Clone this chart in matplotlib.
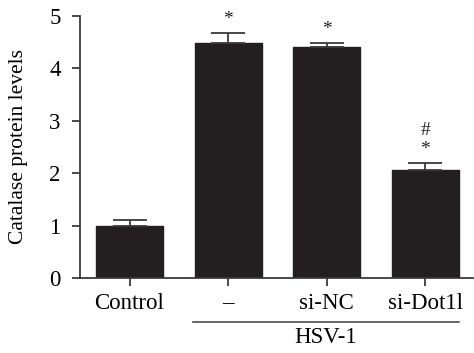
import matplotlib.pyplot as plt
import numpy as np

plt.rcParams.update({
    "font.family": ["Liberation Serif", "DejaVu Serif"],
    "font.size": 16,
})

# data
groups = ["Control", "\u2013", "si-NC", "si-Dot1l"]
means = [1.00, 4.49, 4.40, 2.06]
errs = [0.10, 0.18, 0.08, 0.13]
marks = ["", "*", "*", "#\n*"]

bar_color = "#231f20"
axis_color = "#3a3a3a"

fig = plt.figure(figsize=(4.74, 3.53), dpi=100)
ax = fig.add_axes([80 / 474, 1 - 278 / 353, 393 / 474, 262 / 353])

x = np.arange(len(groups))
ax.bar(x, means, width=0.68, color=bar_color, edgecolor=bar_color, zorder=2)
ax.errorbar(x, means, yerr=[np.zeros(len(errs)), errs], fmt="none",
            ecolor=axis_color, elinewidth=1.3, capsize=12, capthick=1.3, zorder=3)

for xi, m, e, s in zip(x, means, errs, marks):
    if not s:
        continue
    ax.text(xi, m + e + 0.1, s, ha="center", va="bottom", fontsize=14,
            linespacing=1.15, color="#222222")

ax.set_xlim(-0.503, 3.487)
ax.set_ylim(0, 5)
ax.set_yticks(range(6))
ax.set_xticks(x)
ax.set_xticklabels(groups)
ax.set_ylabel("Catalase protein levels", fontsize=15.5)
ax.yaxis.set_label_coords(-52 / 393, 0.5)

for side in ["top", "right"]:
    ax.spines[side].set_visible(False)
for side in ["left", "bottom"]:
    ax.spines[side].set_color(axis_color)
    ax.spines[side].set_linewidth(1.3)
ax.tick_params(axis="both", direction="out", length=6, width=1.3,
               color=axis_color, labelsize=16.5, pad=5)
ax.tick_params(axis="y", pad=8)

# HSV-1 group bracket
ax.plot([0.645, 3.345], [-0.834, -0.834], color=axis_color, lw=1.1, clip_on=False)
ax.text(1.995, -1.145, "HSV-1", ha="center", va="center", fontsize=16.5)

fig.savefig("out.png", dpi=100)
